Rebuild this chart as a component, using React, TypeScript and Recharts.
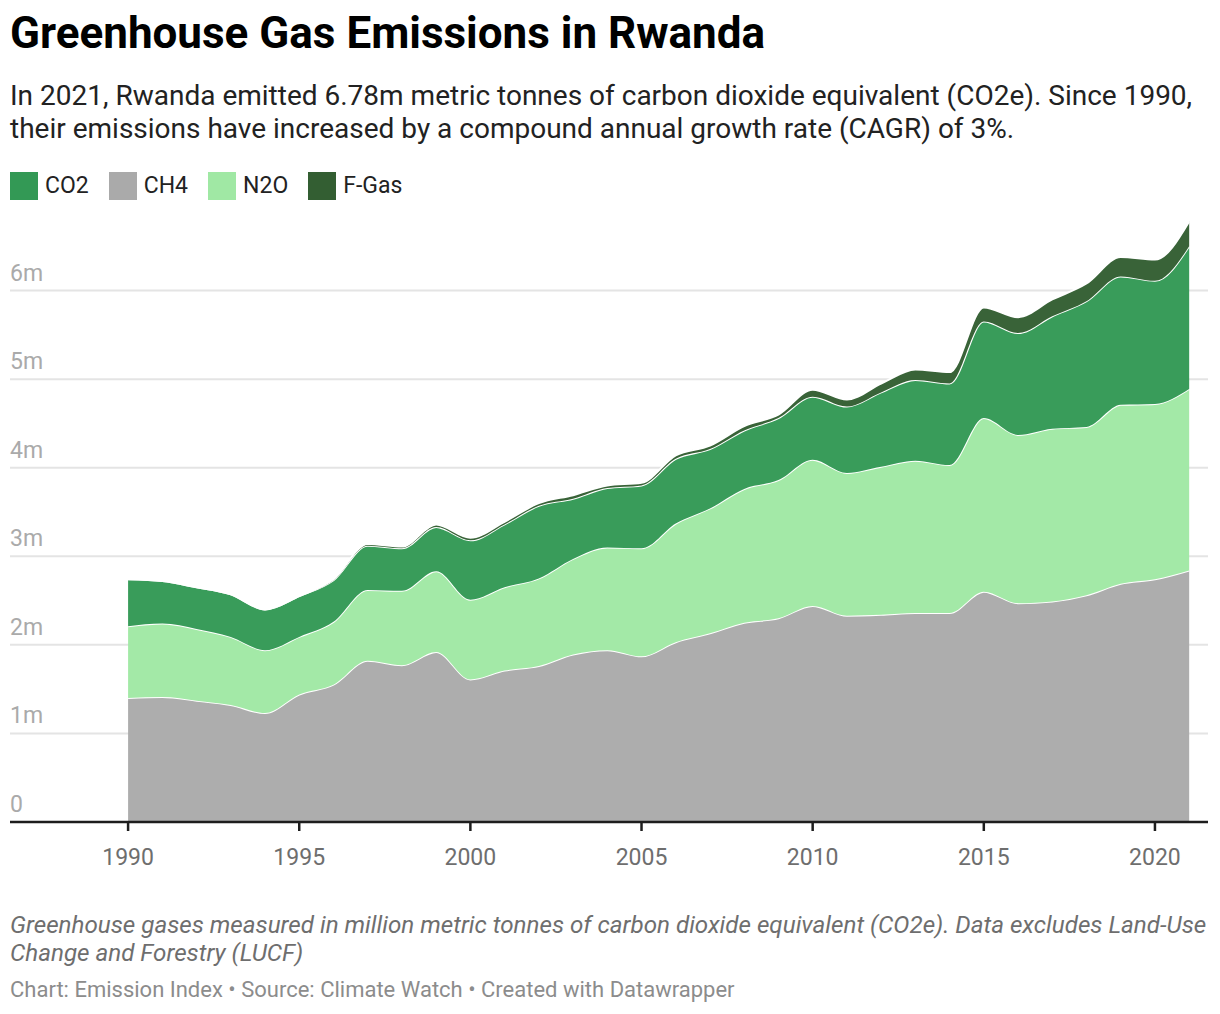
import React from 'react';
import { AreaChart, Area, XAxis, YAxis, CartesianGrid } from 'recharts';

// 年
const years = [
  1990, 1991, 1992, 1993, 1994, 1995, 1996, 1997, 1998, 1999, 2000, 2001, 2002, 2003, 2004, 2005,
  2006, 2007, 2008, 2009, 2010, 2011, 2012, 2013, 2014, 2015, 2016, 2017, 2018, 2019, 2020, 2021,
];

// million tonnes CO2e per gas
const ch4 = [
  1.4, 1.41, 1.37, 1.32, 1.23, 1.44, 1.55, 1.82, 1.77, 1.92, 1.61, 1.71, 1.76, 1.89, 1.94, 1.87,
  2.03, 2.13, 2.25, 2.3, 2.44, 2.33, 2.34, 2.36, 2.36, 2.6, 2.47, 2.49, 2.56, 2.69, 2.74, 2.84,
];
const n2o = [
  0.81, 0.83, 0.81, 0.77, 0.71, 0.65, 0.71, 0.8, 0.84, 0.91, 0.9, 0.94, 0.99, 1.08, 1.16, 1.22,
  1.34, 1.41, 1.51, 1.56, 1.65, 1.61, 1.67, 1.72, 1.67, 1.96, 1.9, 1.95, 1.9, 2.02, 1.98, 2.05,
];
const co2 = [
  0.53, 0.48, 0.47, 0.48, 0.46, 0.46, 0.47, 0.5, 0.48, 0.5, 0.67, 0.71, 0.82, 0.68, 0.67, 0.71,
  0.73, 0.67, 0.66, 0.7, 0.71, 0.75, 0.84, 0.91, 0.92, 1.09, 1.15, 1.27, 1.42, 1.45, 1.39, 1.61,
];
const fgas = [
  0, 0, 0, 0, 0, 0, 0.01, 0.02, 0.02, 0.03, 0.03, 0.03, 0.03, 0.04, 0.03, 0.03,
  0.04, 0.04, 0.05, 0.04, 0.08, 0.08, 0.1, 0.12, 0.13, 0.16, 0.18, 0.19, 0.2, 0.22, 0.24, 0.28,
];

const xTicks = [1990, 1995, 2000, 2005, 2010, 2015, 2020];
const yTicks = [0, 1, 2, 3, 4, 5, 6];

const series = [
  { key: 'CO2', color: '#339955' },
  { key: 'CH4', color: '#aaaaaa' },
  { key: 'N2O', color: '#a0e8a4' },
  { key: 'F-Gas', color: '#335e32' },
];

// 積み上げ順（下から）
const stackOrder = ['CH4', 'N2O', 'CO2', 'F-Gas'];

const data = years.map((year, i) => ({
  year,
  CH4: ch4[i],
  N2O: n2o[i],
  CO2: co2[i],
  'F-Gas': fgas[i],
}));

const FONT = 'Roboto, "Noto Sans", sans-serif';

const renderYTick = (props: any) => {
  const { y, payload } = props;
  return (
    <text x={10} y={y - 10} fill="#aaaaaa" fontSize={23} fontFamily={FONT} textAnchor="start">
      {payload.value === 0 ? '0' : `${payload.value}m`}
    </text>
  );
};

export default function App() {
  const colorOf = (k: string) => series.find((s) => s.key === k)!.color;

  return (
    <div
      style={{
        position: 'absolute',
        left: 0,
        top: 0,
        width: 1220,
        height: 1014,
        background: '#fff',
        fontFamily: FONT,
        color: '#1d1d1d',
      }}
    >
      <div
        style={{
          position: 'absolute',
          left: 10,
          top: 7,
          fontSize: 44,
          fontWeight: 700,
          lineHeight: '52px',
          color: '#000',
          whiteSpace: 'nowrap',
        }}
      >
        Greenhouse Gas Emissions in Rwanda
      </div>
      <div
        style={{
          position: 'absolute',
          left: 10,
          top: 80,
          width: 1210,
          fontSize: 28,
          lineHeight: '32.6px',
          color: '#222',
          whiteSpace: 'nowrap',
        }}
      >
        In 2021, Rwanda emitted 6.78m metric tonnes of carbon dioxide equivalent (CO2e). Since 1990,
        <br />
        their emissions have increased by a compound annual growth rate (CAGR) of 3%.
      </div>

      {/* 凡例 */}
      <div style={{ position: 'absolute', left: 10, top: 172, display: 'flex', alignItems: 'center' }}>
        {series.map((s) => (
          <div key={s.key} style={{ display: 'flex', alignItems: 'center', marginRight: 20 }}>
            <div style={{ width: 28, height: 28, background: s.color, marginRight: 7 }} />
            <span style={{ fontSize: 23, lineHeight: '28px', color: '#222' }}>{s.key}</span>
          </div>
        ))}
      </div>

      <div style={{ position: 'absolute', left: 0, top: 190 }}>
        <AreaChart
          width={1220}
          height={700}
          data={data}
          margin={{ top: 12, right: 12, bottom: 38, left: 0 }}
        >
          <CartesianGrid
            vertical={false}
            horizontalValues={yTicks}
            stroke="#e4e4e4"
            strokeWidth={2}
          />
          <XAxis
            dataKey="year"
            type="number"
            domain={[1986.55, 2021.55]}
            ticks={xTicks}
            allowDataOverflow
            axisLine={{ stroke: '#1d1d1d', strokeWidth: 2.5 }}
            tickLine={{ stroke: '#1d1d1d', strokeWidth: 2.5 }}
            tickSize={9}
            tickMargin={18}
            tick={{ fill: '#6e6e6e', fontSize: 23, fontFamily: FONT }}
          />
          <YAxis
            type="number"
            domain={[0, 7]}
            ticks={yTicks}
            interval={0}
            width={10}
            axisLine={false}
            tickLine={false}
            tick={renderYTick}
          />
          {stackOrder.map((k) => (
            <Area
              key={k}
              dataKey={k}
              stackId="1"
              type="monotone"
              fill={colorOf(k)}
              fillOpacity={0.97}
              stroke="#ffffff"
              strokeWidth={2}
              isAnimationActive={false}
            />
          ))}
        </AreaChart>
      </div>

      <div
        style={{
          position: 'absolute',
          left: 10,
          top: 911,
          width: 1210,
          fontSize: 24.2,
          lineHeight: '28px',
          fontStyle: 'italic',
          color: '#6e6e6e',
          whiteSpace: 'nowrap',
        }}
      >
        Greenhouse gases measured in million metric tonnes of carbon dioxide equivalent (CO2e). Data excludes Land-Use
        <br />
        Change and Forestry (LUCF)
      </div>
      <div
        style={{
          position: 'absolute',
          left: 10,
          top: 977,
          fontSize: 22,
          lineHeight: '26px',
          color: '#8c8c8c',
          whiteSpace: 'nowrap',
        }}
      >
        Chart: Emission Index • Source: Climate Watch • Created with Datawrapper
      </div>
    </div>
  );
}
